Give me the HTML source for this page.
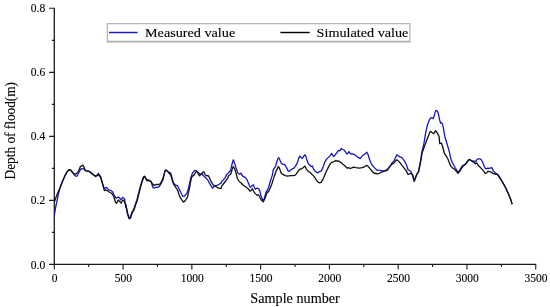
<!DOCTYPE html>
<html><head><meta charset="utf-8"><style>
html,body{margin:0;padding:0;background:#fff;}
svg{display:block;}
text{font-family:"Liberation Serif","Times New Roman",serif;fill:#000;stroke:#000;stroke-width:0.12px;}
.tk{font-size:12px;}
.ttl{font-size:14.2px;}
.ttl2{font-size:13.3px;}
.lg{font-size:12.6px;}
</style></head><body>
<svg width="550" height="307" viewBox="0 0 550 307">
<rect width="550" height="307" fill="#fff"/>
<path d="M54.3 7.75 V264.4 H536.3" fill="none" stroke="#1a1a1a" stroke-width="1.3"/>
<path d="M49.1 264.4 H54.3 M51.8 232.39 H54.3 M49.1 200.38 H54.3 M51.8 168.37 H54.3 M49.1 136.36 H54.3 M51.8 104.35 H54.3 M49.1 72.34 H54.3 M51.8 40.33 H54.3 M49.1 8.32 H54.3 M54.3 264.4 V269.6 M88.69 264.4 V266.9 M123.08 264.4 V269.6 M157.46 264.4 V266.9 M191.85 264.4 V269.6 M226.24 264.4 V266.9 M260.62 264.4 V269.6 M295.01 264.4 V266.9 M329.4 264.4 V269.6 M363.79 264.4 V266.9 M398.18 264.4 V269.6 M432.56 264.4 V266.9 M466.95 264.4 V269.6 M501.34 264.4 V266.9 M535.73 264.4 V269.6" fill="none" stroke="#1a1a1a" stroke-width="1.1"/>
<text x="0" y="0" transform="translate(45.2,268.5) scale(0.96,1)" text-anchor="end" class="tk">0.0</text>
<text x="0" y="0" transform="translate(45.2,204.48) scale(0.96,1)" text-anchor="end" class="tk">0.2</text>
<text x="0" y="0" transform="translate(45.2,140.46) scale(0.96,1)" text-anchor="end" class="tk">0.4</text>
<text x="0" y="0" transform="translate(45.2,76.44) scale(0.96,1)" text-anchor="end" class="tk">0.6</text>
<text x="0" y="0" transform="translate(45.2,12.42) scale(0.96,1)" text-anchor="end" class="tk">0.8</text>
<text x="0" y="0" transform="translate(54.6,281.7) scale(0.96,1)" text-anchor="middle" class="tk">0</text>
<text x="0" y="0" transform="translate(123.38,281.7) scale(0.96,1)" text-anchor="middle" class="tk">500</text>
<text x="0" y="0" transform="translate(192.15,281.7) scale(0.96,1)" text-anchor="middle" class="tk">1000</text>
<text x="0" y="0" transform="translate(260.93,281.7) scale(0.96,1)" text-anchor="middle" class="tk">1500</text>
<text x="0" y="0" transform="translate(329.7,281.7) scale(0.96,1)" text-anchor="middle" class="tk">2000</text>
<text x="0" y="0" transform="translate(398.48,281.7) scale(0.96,1)" text-anchor="middle" class="tk">2500</text>
<text x="0" y="0" transform="translate(467.25,281.7) scale(0.96,1)" text-anchor="middle" class="tk">3000</text>
<text x="0" y="0" transform="translate(536.02,281.7) scale(0.96,1)" text-anchor="middle" class="tk">3500</text>
<text x="295.1" y="302.5" text-anchor="middle" class="ttl">Sample number</text>
<text transform="translate(15.0,130.7) rotate(-90) scale(1,1.08)" text-anchor="middle" class="ttl2">Depth of flood(m)</text>
<rect x="107.3" y="23.7" width="302.6" height="17.6" fill="#fff" stroke="#aaa" stroke-width="1.1"/>
<path d="M106.8 41.8 H410.6" fill="none" stroke="#b0b0b0" stroke-width="1.6"/>
<path d="M109 32.5 H137.6" stroke="#1616c4" stroke-width="1.4"/>
<text x="0" y="0" transform="translate(145,37.1) scale(1.127,1)" class="lg">Measured value</text>
<path d="M280.4 32.5 H309.7" stroke="#000" stroke-width="1.4"/>
<text x="0" y="0" transform="translate(316.6,37.1) scale(1.127,1)" class="lg">Simulated value</text>
<path d="M54.5 214.6 L55.5 208.1 L56.6 202.6 L58.3 194.9 L59.4 189.8 L62.1 182.5 L64.9 176.1 L67.1 171.9 L69 169.8 L70.8 170.4 L72.6 172.5 L74.4 175.2 L75.8 176.1 L77.2 176.1 L79 172.2 L80.8 169.1 L81.7 168.6 L83.1 168.8 L84.5 169.8 L85.8 170.7 L87.7 171.1 L89.5 171.6 L92.2 173.4 L94.5 175.7 L95.9 176.6 L97.7 175.2 L98.3 174.5 L100.7 177.5 L101.5 180 L102.7 184.1 L104 188.1 L105.2 188.1 L106.4 187.3 L107.6 188.6 L109.3 190.2 L111.3 190.6 L112.9 192.2 L114.5 195.9 L116.2 198.3 L118.2 197.1 L119.4 197.5 L120.7 200 L122.3 197.5 L123.5 197.9 L124.7 199.5 L125.8 207.7 L125.9 204.4 L127.4 214 L129 218.6 L130 218.1 L131 215 L132.1 211.9 L133.1 210.8 L134.2 207.7 L135.2 204.6 L136.8 200.4 L138.3 194.2 L139.4 190 L141.6 182.2 L143.5 176.8 L144.8 176.3 L146.2 179.1 L147.6 180 L149.4 180.4 L151.2 181.8 L152.1 185 L153.1 187.7 L154.4 188.2 L155.8 187.3 L157.6 187.3 L159.4 186.4 L161.3 183.2 L163.1 179.5 L164.9 170.8 L166.3 170.4 L168.1 171.8 L169.9 172.7 L170.8 173.1 L172.2 178.6 L173.6 183.2 L175 184.5 L176.3 185.4 L177.7 185.9 L179.1 189.1 L180.4 191.4 L181.1 193.3 L182.9 196.5 L184.3 196.1 L185.7 194.7 L187.1 192.9 L188.4 188.8 L189.6 183.1 L191 177.2 L192.4 173.1 L194.2 170.8 L196 170.4 L197.4 171.7 L198.8 173.1 L200.6 174.5 L202 173.6 L202.9 175.4 L204.2 176.3 L205.6 177.7 L207 179 L208.3 180.9 L209.7 183.6 L211.1 185.9 L212.4 188.2 L213.8 186.8 L215.2 185.9 L217 185.4 L218.8 184.5 L221 183.1 L222.2 180.9 L224.7 178.5 L226.5 174.9 L228.9 172.5 L230.7 170.1 L231.9 164.7 L233.3 159.8 L234.9 164 L236.1 168.3 L237.9 173.1 L239.7 174.3 L240.9 173.1 L242.7 176.1 L245.2 177.3 L247 179.7 L248.8 184 L250 187 L250.9 187.2 L252.3 185.3 L253.3 184.8 L254.3 187.2 L255.3 189.2 L256.7 188.2 L258.7 188.7 L259.7 190.6 L260.6 194.6 L261.6 197.5 L263.1 200.4 L264.1 199.4 L265 196 L266 192.1 L267 190.6 L268.5 187.7 L269.9 182.8 L271.4 177.9 L272.4 175 L273.2 169.8 L274.6 168 L275.9 165.2 L276.8 162 L278.2 157.9 L279.1 157.9 L280 160.2 L281.4 163.4 L282.8 164.3 L284.1 164.3 L285.5 165.7 L286.9 168.4 L288.2 171.1 L289.6 171.1 L291 169.8 L292.3 168.9 L293.7 168.4 L295.5 166.1 L297.3 162.9 L298.7 158.4 L299.6 156.1 L301 157.5 L302.4 158.4 L303.7 156.1 L305 154.7 L305.9 156.5 L307.1 160.6 L308.2 163.5 L309.4 164.7 L311.2 166.5 L312.3 165.9 L313.5 168.8 L315.3 171.2 L317.6 172.9 L319.4 171.7 L321.2 171.2 L322.9 167.6 L324.7 162.3 L326.4 159.4 L328.2 157.6 L330 155.9 L331.7 153.5 L333.5 156.5 L334.4 155.9 L335 155.3 L335.7 154 L337.1 152.7 L338.5 150.4 L339.8 150.8 L341.2 148.6 L342.6 149.5 L343.9 149.9 L345.3 151.7 L346.7 154 L348 153.1 L349 151.7 L349.9 153.1 L351.2 154 L353.1 154 L354.9 154.9 L356.7 156.3 L358.5 157.7 L360.3 158.6 L362.2 155.9 L364 154.5 L365.4 153.6 L366.7 152.2 L368.1 154.5 L369 157.8 L370.4 161.7 L371.9 164.7 L373.9 167.1 L375.8 169.1 L377.3 170.5 L378.8 170 L380.2 170.5 L382.2 171 L383.6 171 L385.6 170.5 L387.1 170.5 L388.5 168.6 L390.5 165.6 L392.4 162.2 L393.9 161.2 L395.4 157.8 L396.8 154.9 L398.3 155.9 L399.8 156.8 L401.7 157.3 L403.2 159.3 L404.7 161.2 L406.1 164.2 L407.1 166.6 L408 169.6 L409.8 170.8 L411 171.8 L412.7 175.9 L414.2 181.2 L416.2 175.9 L418.6 171.2 L420.3 163 L421.5 154 L423.9 143.6 L425.4 134.3 L426.4 129.4 L427.3 125.5 L428.8 121.1 L430.3 118.2 L431.7 117.7 L433.2 118.7 L434.2 115.8 L435.2 111.8 L436.1 110.4 L437.6 111.4 L438.6 114.8 L439.6 119.7 L440.5 123.1 L441.5 122.6 L442.5 124.1 L443.5 128.5 L444.4 134.3 L445 137 L447.3 144.8 L449.4 152 L450.3 156.6 L451.6 161.1 L453.5 164.8 L455.3 168 L457.1 170.7 L458.5 172.5 L459.9 169.8 L461.2 167.5 L462.6 165.7 L464.4 164.8 L466.2 163.4 L467.6 161.1 L469 159.3 L470.3 159.7 L471.7 160.7 L473.1 161.1 L474.4 161.1 L475.8 161.6 L476.7 159.7 L478.1 158.8 L479.9 158.8 L481.3 159.7 L482.6 162 L483.6 164.8 L484.5 167 L485.8 168.9 L487.2 168.4 L488 168 L488.2 168.7 L489.9 168.2 L491.7 167.6 L493.5 171.1 L495.2 172.8 L497.6 174.5 L499.9 177.5 L502.1 181.4 L505.7 187.8 L508.6 194.3 L510.9 200.1 L512.1 204.2" fill="none" stroke="#1616c4" stroke-width="1.3" stroke-linejoin="round"/>
<path d="M54.6 201.5 L56.1 197.1 L57.8 192.8 L59.4 189.4 L62.1 182.1 L64.9 175.7 L67.1 171.6 L69 169.8 L70.8 170.2 L72.6 172.5 L74.9 174.3 L76.7 173.4 L78.5 171.1 L80.4 166.6 L81.7 165.8 L83.1 165.2 L84.5 168.4 L85.4 170.7 L87.2 171.1 L89 171.1 L90.4 172.5 L92.2 173.9 L95 176.1 L97.7 174.8 L98.3 173.4 L100.7 176.9 L101.5 180 L103.1 185.7 L104.4 190.6 L105.6 189.8 L107.2 190.6 L108.8 191.8 L110.9 193 L112.5 194.3 L114.1 197.5 L115.4 202 L116.6 203.2 L118.2 200 L119.4 201.2 L121.1 203.2 L122.7 200 L123.9 200.8 L125.5 204.4 L126.3 207.7 L127.9 214 L129.5 218.6 L130.5 218.1 L131.5 215 L132.6 211.9 L133.6 210.8 L134.7 207.7 L135.7 204.6 L137.3 200.4 L138.8 194.2 L141.6 183.2 L143.5 177.7 L144.4 176.3 L145.8 178.6 L147.1 180.9 L148.5 180.4 L149.9 180.9 L151.2 181.8 L152.6 184.1 L154.4 185.4 L156.2 184.5 L158.1 184.5 L159.9 184.1 L161.7 181.3 L163.5 176.8 L164.9 171.3 L165.8 169.9 L167.2 170.8 L168.6 172.7 L169.9 174 L170.8 175.4 L172.2 180 L173.6 184.1 L175.4 186.8 L177.2 189.5 L178.1 191.4 L178.8 194.2 L180.2 197.4 L181.6 199.7 L183.4 202 L184.8 201.1 L186.1 199.3 L187.5 197 L188.4 192.9 L189.8 186.9 L190.1 184.1 L191.5 177.7 L192.8 175.9 L194.2 174.9 L195.6 172.2 L196.9 171.3 L198.3 174 L199.7 175.9 L201 174 L202.4 172.7 L203.8 171.7 L205.1 174.5 L206.5 175.9 L207.9 175.4 L209.2 177.2 L210.2 179.5 L211.5 182.2 L212.9 184.5 L214.3 185.9 L215.6 186.3 L217 187.2 L218.8 188.2 L221 188.6 L221.6 186.4 L223.4 184 L225.3 181.5 L227.1 179.1 L228.9 175.5 L230.7 174.3 L232.5 168.3 L233.3 166.5 L234.9 169.5 L236.1 173.1 L237.3 178.5 L239.1 181.5 L240.9 182.7 L243.3 185.2 L245.8 187 L248.2 188.8 L250 191.2 L251.4 190.2 L252.3 188.7 L253.8 191.6 L255.3 193.6 L256.7 195 L258.7 195 L260.2 198 L261.6 200.4 L263.1 201.9 L264.6 199.4 L266 195.5 L267 192.6 L268.5 191.6 L269.9 188.7 L271.9 183.8 L273.8 177.9 L274.6 174.8 L274.8 175 L275.9 171.6 L277.3 168.9 L278.2 166.6 L279.1 167.5 L280 169.8 L280.9 172.5 L281.9 173.9 L283.7 174.8 L285.5 175.7 L287.3 176.2 L289.1 175.9 L291 175.7 L293.2 175.5 L295.1 175.2 L296.4 173.9 L297.8 171.6 L299.2 169.8 L301 168.9 L302.8 168 L305 166.1 L306.5 169.4 L308.2 171.2 L310.6 172.9 L312.3 174.7 L314.1 176.4 L315.9 179.4 L317.6 181.7 L319.4 182.9 L321.2 182.3 L322.9 179.4 L324.7 175.3 L326.4 171.2 L328.2 167.6 L330 164.1 L331.7 162.3 L333.5 161.8 L334.4 161.3 L335 161.2 L335.7 160.4 L337.1 161.3 L338.5 160.9 L340.3 162.2 L342.1 163.6 L343.9 165 L345.8 166.8 L347.1 168.2 L348.5 167.7 L349.9 168.4 L351.2 168.2 L353.5 167.2 L355.8 167.7 L357.6 167.9 L359.4 168.2 L362.2 167.7 L364.4 166.8 L366.7 165.4 L368.1 166.3 L370 168.6 L371.9 171 L373.9 173 L375.8 173.5 L377.3 173.9 L379.2 173.3 L381.2 172.5 L383.6 171.5 L386.1 170.5 L388 168.6 L390 166.1 L391.9 164.2 L393.9 163.2 L395.4 161.2 L396.8 159.8 L398.3 160.8 L400.3 163.2 L402.2 165.6 L404.2 168.1 L406.1 170.5 L408 174.4 L411 173.4 L412.7 174.8 L414.2 181.2 L416.2 175.5 L418.6 171.5 L419.8 165.4 L421.5 157 L422.1 153 L424.4 146.5 L426.8 140.1 L428.6 135.4 L430.3 131.3 L432.7 133 L433.8 133.6 L435.6 130.7 L437.3 133 L439.1 136.6 L439.7 143.6 L441.4 143 L442.6 146.5 L444.4 153.5 L446.1 155.9 L448 159.3 L449.4 162.9 L450.7 166.1 L452.6 168 L454.4 169.3 L456.2 171.1 L458 173.4 L459.9 171.1 L461.7 168 L463.5 165.7 L465.3 164.3 L467.1 162 L468.5 160.2 L469.9 159.7 L471.2 160.7 L472.6 161.6 L474 162.5 L475.3 163.9 L476.7 162.9 L478.1 165.2 L479.9 167 L481.7 168.9 L483.6 171.1 L485.4 173.4 L486.7 173 L488 171.1 L488.2 171.7 L490.5 171.7 L492.9 173.4 L495.2 174 L497.6 174.6 L499.9 178.1 L502.3 181.7 L505.7 188 L508.6 194.3 L510.9 200.1 L512.1 204.2" fill="none" stroke="#111" stroke-width="1.3" stroke-linejoin="round"/>
</svg>
</body></html>
